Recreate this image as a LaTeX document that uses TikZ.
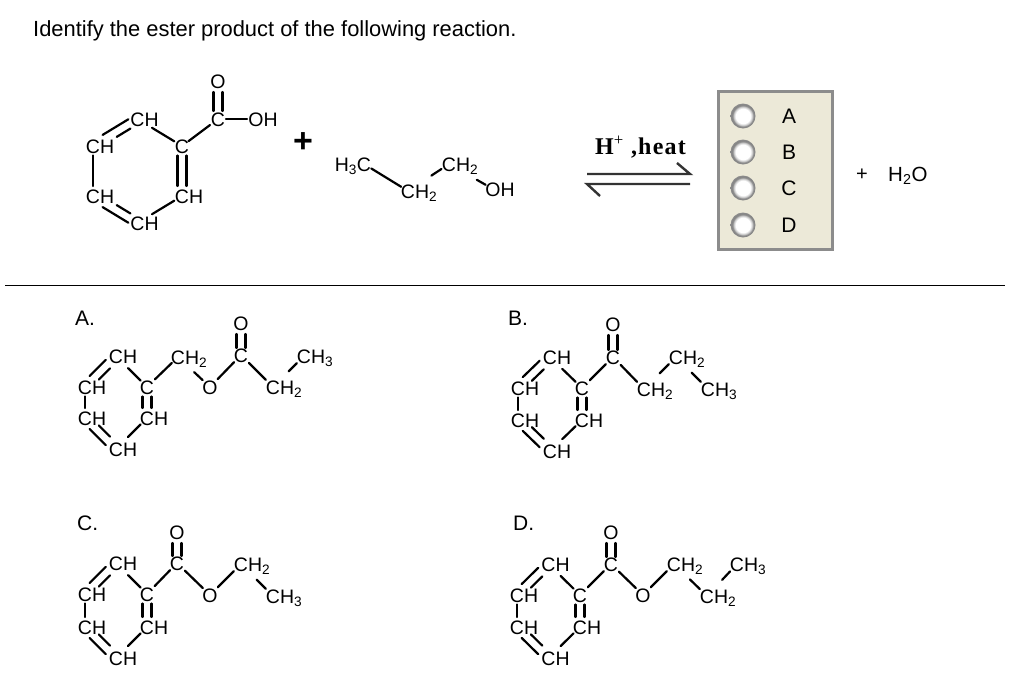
\documentclass[tikz,border=0pt]{standalone}
\usepackage{fontspec}
\setmainfont{Liberation Sans}
\newfontfamily\heatfont[LetterSpace=5]{Liberation Serif}
\usepackage{xcolor}
\usepackage{tikz}
\usetikzlibrary{
    calc,
    shapes.geometric
}
\definecolor{boxfill}{HTML}{ECE9D8}
\definecolor{boxedge}{HTML}{8C8C8C}
\pgfdeclareradialshading{radioshade}{\pgfpointorigin}{
    color(0bp)=(white); color(15bp)=(white); color(19bp)=(black!25);
    color(21.5bp)=(black!50); color(25bp)=(black!45); color(50bp)=(black!45)
}
\tikzset{
    % atom labels: the node is the carbon or oxygen letter only
    atom/.style={inner sep=0pt, text height=15.5pt, text depth=0pt, font=\fontsize{19.5}{19.5}\selectfont},
    bond/.style={line width=2.2pt, line cap=round},
    % how far a bond stops short of the two atoms
    cut/.style 2 args={shorten <=#1pt, shorten >=#2pt},
    eqline/.style={line width=2.4pt, black!80},
    optlabel/.style={anchor=west, inner sep=0pt, font=\fontsize{21}{21}\selectfont},
    radio/.style={circle, inner sep=0pt, minimum size=25pt, shading=radioshade},
    choice/.style={inner sep=0pt, font=\fontsize{21}{21}\selectfont}
}
\newcommand{\CH}{C\rlap{H}}
\newcommand{\CHtwo}{C\rlap{\smash{H\textsubscript{2}}}}
\newcommand{\CHthree}{C\rlap{\smash{H\textsubscript{3}}}}
% one line of a multiple bond, moved sideways by #1
\newcommand{\offbond}[5][0pt]{
    \draw[bond, cut={#4}{#5}] ($(#2)!#1!90:(#3)$) -- ($(#3)!#1!-90:(#2)$);
}
\newcommand{\dblbond}[4]{
    \offbond[4.5pt]{#1}{#2}{#3}{#4}
    \offbond[-4.5pt]{#1}{#2}{#3}{#4}
}
% ring: prefix, x, y, half width, top rise, side height, outer start, outer end, inner start
\newcommand{\benzring}[9]{
    \begin{scope}[shift={(#2,#3)}]
        \node[atom] (#1c) at (0,0) {C};
        \foreach \n/\px/\py in {t/-#4/-#5, l/-2*#4/0, ll/-2*#4/#6, lr/0/#6, b/-#4/#5+#6} {
            \node[atom] (#1\n) at ({\px},{\py}) {\CH};
        }
    \end{scope}
    \offbond[4.5pt]{#1l}{#1t}{#7}{#8}
    \pgfmathsetmacro{\innerend}{#8+3}
    \offbond[-4.5pt]{#1l}{#1t}{#9}{\innerend}
    \offbond[-4.5pt]{#1ll}{#1b}{#7}{#8}
    \offbond[4.5pt]{#1ll}{#1b}{#9}{\innerend}
    \draw[bond, cut={9.5}{10}] (#1l.center) -- (#1ll.center);
    \draw[bond, cut={17}{9}] (#1t.center) -- (#1c.center);
    \dblbond{#1c.center}{#1lr.center}{9.5}{10}
    \draw[bond, cut={9}{17}] (#1lr.center) -- (#1b.center);
}
\begin{document}
\begin{tikzpicture}[x=1pt, y=-1pt]
    \useasboundingbox (0,0) rectangle (1024,699);

    \node[anchor=west, inner sep=0pt, font=\fontsize{21.9}{22}\selectfont] (title) at (33,31)
        {Identify the ester product of the following reaction.};

    % benzoic acid
    \benzring{m}{182}{146}{44.5}{27}{50}{14}{8}{25}
    \node[atom] (mco) at (218,119) {C};
    \node[atom] (mo) at (218,81) {O};
    \node[atom] (moh) at (256,119) {O\rlap{H}};
    \draw[bond, cut={8}{10}] (mc.center) -- (mco.center);
    \draw[bond, cut={8}{9}] (mco.center) -- (moh.center);
    \dblbond{mco.center}{mo.center}{8}{11}
    \node[font=\bfseries\fontsize{34}{34}\selectfont, inner sep=0pt] (plusa) at (303,143) {+};

    % propanol
    \node[atom] (pa) at (364,164) {\llap{H\textsubscript{3}}C};
    \node[atom] (pb) at (408,191) {\CHtwo};
    \node[atom] (pc) at (449,164) {\CHtwo};
    \node[atom] (pd) at (493,189) {O\rlap{H}};
    \draw[bond, cut={8.5}{8}] (pa.center) -- (pb.center);
    \draw[bond, cut={28}{9}] (pb.center) -- (pc.center);
    \draw[bond, cut={32}{8.5}] (pc.center) -- (pd.center);

    % conditions and equilibrium arrows
    \node[anchor=west, inner sep=0pt, font=\heatfont\bfseries\fontsize{24}{24}\selectfont] (heat) at (595,147)
        {H\textsuperscript{\mdseries +} ,heat};
    \coordinate (ea) at (587,174);
    \coordinate (eb) at (690,174);
    \coordinate (ec) at (677,163);
    \coordinate (ed) at (690,184);
    \coordinate (ee) at (587,184);
    \coordinate (ef) at (600,196);
    \draw[eqline, line join=miter] (ea) -- (eb) -- (ec);
    \draw[eqline, line join=miter] (ed) -- (ee) -- (ef);

    % answer box
    \node[draw=boxedge, fill=boxfill, line width=2.5pt, inner sep=0pt,
        minimum width=114pt, minimum height=158pt] (answers) at (775.5,170.5) {};
    \foreach \n/\py/\t in {a/116/A, b/152/B, c/188/C, d/225/D} {
        \node[radio] (radio\n) at (743,\py) {};
        \node[choice] (choice\n) at (789,\py) {\t};
    }
    \node[inner sep=0pt, font=\fontsize{20}{20}\selectfont] (plusb) at (862,175) {+};
    \node[anchor=west, inner sep=0pt, font=\fontsize{20.5}{21}\selectfont] (water) at (888,176) {H\textsubscript{2}O};

    \coordinate (rulea) at (5,285);
    \coordinate (ruleb) at (1005,285);
    \draw[line width=1pt] (rulea) -- (ruleb);

    % option A
    \node[optlabel] (laba) at (75,318) {A.};
    \benzring{a}{147}{387}{31}{31}{31}{11}{10}{15}
    \node[atom] (ach) at (178,357) {\CHtwo};
    \node[atom] (ao) at (210,387) {O};
    \node[atom] (aco) at (241,355) {C};
    \node[atom] (aot) at (241,323) {O};
    \node[atom] (acd) at (273,387) {\CHtwo};
    \node[atom] (ace) at (304,356) {\CHthree};
    \draw[bond, cut={11}{8.5}] (ac.center) -- (ach.center);
    \draw[bond, cut={22}{10}] (ach.center) -- (ao.center);
    \draw[bond, cut={11}{10}] (ao.center) -- (aco.center);
    \dblbond{aco.center}{aot.center}{7}{11}
    \draw[bond, cut={11}{10}] (aco.center) -- (acd.center);
    \draw[bond, cut={22}{10}] (acd.center) -- (ace.center);

    % option B
    \node[optlabel] (labb) at (508,318) {B.};
    \benzring{b}{582}{388}{32}{31}{32}{11}{10}{15}
    \node[atom] (bco) at (613,357) {C};
    \node[atom] (bot) at (613,324) {O};
    \node[atom] (bcd) at (644,389) {\CHtwo};
    \node[atom] (bce) at (676,357) {\CHtwo};
    \node[atom] (bcf) at (708,389) {\CHthree};
    \draw[bond, cut={11}{10}] (bc.center) -- (bco.center);
    \dblbond{bco.center}{bot.center}{7}{11}
    \draw[bond, cut={11}{10}] (bco.center) -- (bcd.center);
    \draw[bond, cut={22}{10}] (bcd.center) -- (bce.center);
    \draw[bond, cut={22}{10}] (bce.center) -- (bcf.center);

    % option C
    \node[optlabel] (labc) at (77,523) {C.};
    \benzring{c}{147}{594}{31}{31}{33}{11}{10}{15}
    \node[atom] (cco) at (177,563) {C};
    \node[atom] (cot) at (177,532) {O};
    \node[atom] (coe) at (210,595) {O};
    \node[atom] (ccd) at (241,564) {\CHtwo};
    \node[atom] (cce) at (273,596) {\CHthree};
    \draw[bond, cut={11}{10}] (cc.center) -- (cco.center);
    \dblbond{cco.center}{cot.center}{7}{11}
    \draw[bond, cut={11}{10}] (cco.center) -- (coe.center);
    \draw[bond, cut={11}{10}] (coe.center) -- (ccd.center);
    \draw[bond, cut={22}{10}] (ccd.center) -- (cce.center);

    % option D
    \node[optlabel] (labd) at (513,523) {D.};
    \benzring{d}{580}{595}{31.5}{31}{32}{11}{10}{15}
    \node[atom] (dco) at (611,564) {C};
    \node[atom] (dot) at (611,532) {O};
    \node[atom] (doe) at (643,595) {O};
    \node[atom] (dcd) at (674,564) {\CHtwo};
    \node[atom] (dce) at (707,596) {\CHtwo};
    \node[atom] (dcf) at (737,564) {\CHthree};
    \draw[bond, cut={11}{10}] (dc.center) -- (dco.center);
    \dblbond{dco.center}{dot.center}{7}{11}
    \draw[bond, cut={11}{10}] (dco.center) -- (doe.center);
    \draw[bond, cut={11}{10}] (doe.center) -- (dcd.center);
    \draw[bond, cut={22}{10}] (dcd.center) -- (dce.center);
    \draw[bond, cut={22}{10}] (dce.center) -- (dcf.center);
\end{tikzpicture}
\end{document}
